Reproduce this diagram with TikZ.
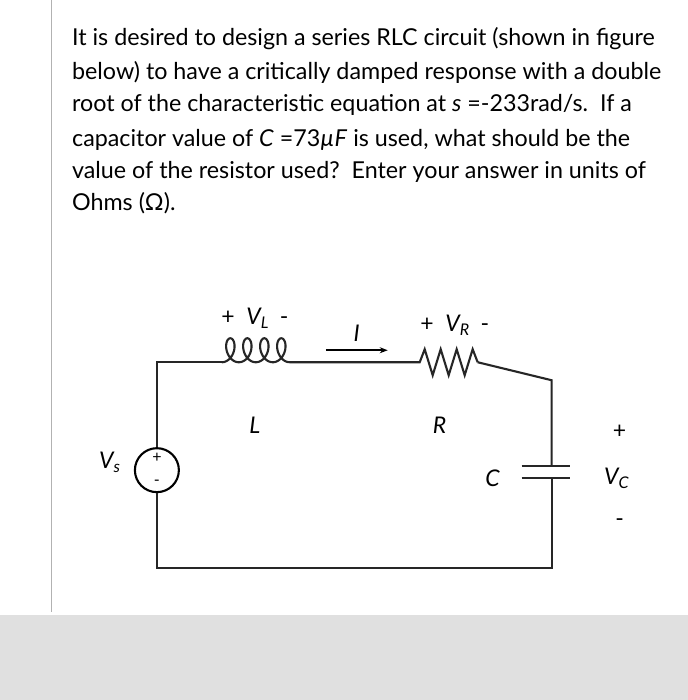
\documentclass[tikz,border=0pt]{standalone}
\usepackage{fontspec}
\setmainfont{Lato}
\usetikzlibrary{arrows.meta}
\newcommand{\sub}[1]{\textsubscript{#1}}
\begin{document}
\begin{tikzpicture}[x=1pt,y=-1pt,
  txt/.style={anchor=west,inner sep=0,font=\fontsize{23.3}{26}\selectfont},
  lbl/.style={inner sep=0,font=\fontsize{23}{26}\selectfont\itshape},
  wire/.style={line width=2.1pt,black!85}]
\fill[white] (0,0) rectangle (688,700);
\fill[black!12] (0,615) rectangle (688,700);
\draw[black!30,line width=1pt] (52,0) -- (52,612);
\node[txt] (t1) at (72,38) {It is desired to design a series RLC circuit (shown in figure};
\node[txt] (t2) at (72,72) {below) to have a critically damped response with a double};
\node[txt] (t3) at (72,104) {root of the characteristic equation at \textit{s} =-233rad/s.\ \ If a};
\node[txt] (t4) at (72,140) {capacitor value of \textit{C} =73\textit{µF} is used, what should be the};
\node[txt] (t5) at (72,172) {value of the resistor used?\ \ Enter your answer in units of};
\node[txt] (t6) at (72,203) {Ohms (Ω).};
% source
\node[draw,circle,line width=2.1pt,minimum size=44pt,inner sep=0] (src) at (157,470) {};
\node[inner sep=0,font=\fontsize{16}{18}\selectfont] (sp) at (157,458) {+};
\node[inner sep=0,font=\fontsize{16}{18}\selectfont] (sm) at (157,483) {-};
\coordinate (l1) at (222,362);
\coordinate (l2) at (290,362);
\coordinate (r1) at (420,362);
\coordinate (r2) at (478,362);
\coordinate (c1) at (552,466);
\coordinate (c2) at (552,478);
\coordinate (d) at (552,568);
\coordinate (e) at (157,568);
\draw[wire] (src.north) -- (157,362) -- (l1);
\draw[wire] plot[domain=0:8*pi,samples=240,variable=\u] ({222+2.706*\u+8*sin(\u r)},{362-12*(1-cos(\u r))});
\draw[wire] (l2) -- (r1) -- ++(5,-13) -- ++(8,26) -- ++(8,-26) -- ++(8,26) -- ++(8,-26) -- ++(8,26) -- ++(8,-26) -- ++(5,13) -- (r2);
\draw[wire] (r2) -- (552,380) -- (c1);
\draw[wire] (522,466) -- (570,466);
\draw[wire] (522,478) -- (570,478);
\draw[wire] (c2) -- (d) -- (e) -- (src.south);
% labels
\node[lbl] (vl) at (255,318) {\upshape+\ \ \itshape V\sub{L}\ \ \upshape-};
\node[lbl] (ii) at (357,333) {I};
\draw[line width=1.6pt,-{Stealth[length=8pt]}] (326,350) -- (388,350);
\node[lbl] (vr) at (455,325) {\upshape+\ \ \itshape V\sub{R}\ \ \upshape-};
\node[lbl] (ll) at (255,425) {L};
\node[lbl] (rr) at (440,425) {R};
\node[lbl] (vs) at (110,462) {V\sub{s}};
\node[lbl] (cp) at (620,432) {\upshape+};
\node[lbl] (cc) at (493,478) {C};
\node[lbl] (vc) at (617,478) {V\sub{C}};
\node[lbl] (cm) at (620,522) {\upshape-};
\end{tikzpicture}
\end{document}
